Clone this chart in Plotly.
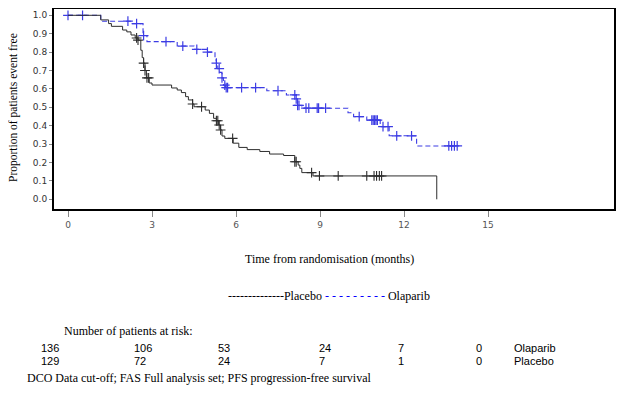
import plotly.graph_objects as go
import bisect

# ---------------- data ----------------
olap_times = [0, 1.17, 2.3, 2.68, 2.82, 3.9, 4.5, 4.96, 5.25, 5.3, 5.35, 5.42, 5.5, 5.55, 5.62,
              7.1, 7.8, 8.15, 8.2, 8.35, 10.0, 10.2, 10.67, 11.15, 11.47, 12.45]
olap_surv = [1.0, 0.968, 0.955, 0.89, 0.857, 0.833, 0.815, 0.80, 0.757, 0.74, 0.71, 0.69, 0.66, 0.62, 0.607,
             0.59, 0.567, 0.546, 0.51, 0.495, 0.47, 0.449, 0.43, 0.395, 0.345, 0.29]
olap_last = 13.9
olap_censor = [0.0, 0.52, 2.14, 2.45, 2.7, 3.5, 4.1, 4.6, 4.98, 5.3, 5.4, 5.5, 5.6, 5.65, 5.7, 6.2, 6.7,
               7.5, 8.1, 8.15, 8.2, 8.25, 8.5, 8.6, 8.9, 8.95, 9.2, 10.4, 10.85, 10.9, 10.95, 11.0,
               11.05, 11.25, 11.43, 11.74, 12.27, 13.6, 13.7, 13.8, 13.9]

plac_times = [0, 1.17, 1.45, 1.55, 1.95, 2.1, 2.25, 2.4, 2.5, 2.6, 2.65, 2.7, 2.75, 2.8, 2.9, 3.0,
              3.7, 3.9, 4.05, 4.2, 4.3, 4.45, 4.5, 4.9, 5.05, 5.2, 5.3, 5.38, 5.45, 5.5, 5.6, 5.9,
              6.1, 6.4, 6.85, 7.2, 7.7, 8.1, 8.22, 8.28, 8.35, 8.75, 13.17]
plac_surv = [1.0, 0.975, 0.955, 0.94, 0.92, 0.91, 0.893, 0.877, 0.865, 0.81, 0.77, 0.74, 0.70, 0.66, 0.632, 0.621,
             0.605, 0.594, 0.58, 0.558, 0.54, 0.518, 0.503, 0.485, 0.467, 0.44, 0.427, 0.404, 0.377, 0.344, 0.331, 0.305,
             0.282, 0.27, 0.26, 0.246, 0.238, 0.204, 0.186, 0.168, 0.145, 0.127, 0.0]
plac_last = 13.17
plac_censor = [2.45, 2.5, 2.7, 2.75, 2.82, 2.88, 4.45, 4.77, 5.3, 5.35, 5.4, 5.45, 5.88, 8.1, 8.15,
               8.7, 8.98, 9.65, 10.67, 10.93, 11.02, 11.12, 11.2]

risk_times = [0, 3, 6, 9, 12, 15]
risk_olap = [136, 106, 53, 24, 7, 0]
risk_plac = [129, 72, 24, 7, 1, 0]
x_ticks = [0, 3, 6, 9, 12, 15]
y_ticks = [0.0, 0.1, 0.2, 0.3, 0.4, 0.5, 0.6, 0.7, 0.8, 0.9, 1.0]

# ---------------- helpers ----------------
def step_value(times, surv, t):
    i = bisect.bisect_right(times, t) - 1
    return surv[max(i, 0)]

def curve(times, surv, last):
    xs = list(times)
    ys = list(surv)
    if xs[-1] < last:
        xs.append(last)
        ys.append(ys[-1])
    return xs, ys

# page has an 8px body margin; the figure is sized to fill the rest of the window
OFF = 8
W, H = 625 - OFF, 395 - OFF
PL, PT, PR, PB = 54, 9, 614, 209          # plot box in page pixels
L, T = PL - OFF, PT - OFF
R, B = W - (PR - OFF), H - (PB - OFF)
PW, PH = PR - PL, PB - PT

def px(xpage):
    return (xpage - PL) / PW

def py(ypage):
    return (PB - ypage) / PH

# y data mapping: 1.0 at page y 15.3, 0.0 at page y 199.3
Y1, Y0 = 15.3, 199.3
per = (Y0 - Y1)
y_top = 1.0 + (Y1 - PT) / per
y_bot = -(PB - Y0) / per

BLUE = "rgb(60,60,228)"
DARK = "rgb(45,45,45)"

fig = go.Figure()

ox, oy = curve(olap_times, olap_surv, olap_last)
fig.add_trace(go.Scatter(x=ox, y=oy, mode="lines", line=dict(shape="hv", color=BLUE, width=1.1, dash="5px,3px"),
                         hoverinfo="skip", showlegend=False))
fig.add_trace(go.Scatter(x=olap_censor, y=[step_value(olap_times, olap_surv, c) for c in olap_censor],
                         mode="markers", marker=dict(symbol="cross-thin-open", size=7, color=BLUE,
                                                     line=dict(color=BLUE, width=1.2)),
                         hoverinfo="skip", showlegend=False))

qx, qy = curve(plac_times, plac_surv, plac_last)
fig.add_trace(go.Scatter(x=qx, y=qy, mode="lines", line=dict(shape="hv", color=DARK, width=1.0),
                         hoverinfo="skip", showlegend=False))
fig.add_trace(go.Scatter(x=plac_censor, y=[step_value(plac_times, plac_surv, c) for c in plac_censor],
                         mode="markers", marker=dict(symbol="cross-thin-open", size=7, color=DARK,
                                                     line=dict(color=DARK, width=1.1)),
                         hoverinfo="skip", showlegend=False))

SERIF = "Liberation Serif, Times New Roman, serif"
SANS = "Liberation Sans, Arial, sans-serif"

fig.update_layout(
    width=W, height=H, margin=dict(l=L, r=R, t=T, b=B, autoexpand=False),
    paper_bgcolor="white", plot_bgcolor="white",
    xaxis=dict(range=[-0.5, 19.5], tickvals=x_ticks, ticktext=[str(v) for v in x_ticks],
               showgrid=False, zeroline=False, showline=True, linecolor="black", linewidth=2, mirror=True,
               ticks="outside", ticklen=6, tickcolor="#888", tickwidth=1,
               tickfont=dict(family="DejaVu Sans", size=9, color="#555")),
    yaxis=dict(range=[y_bot, y_top], tickvals=y_ticks, ticktext=["%.1f" % v for v in y_ticks],
               showgrid=False, zeroline=False, showline=True, linecolor="black", linewidth=2, mirror=True,
               ticks="outside", ticklen=3, tickcolor="#888", tickwidth=1,
               tickfont=dict(family="DejaVu Sans", size=9, color="#333")),
)

ann = []
ann.append(dict(text="Proportion of patients event free", textangle=-90, xref="paper", yref="paper",
                x=px(13), y=py(108), showarrow=False, font=dict(family=SERIF, size=11.5, color="black"),
                xanchor="center", yanchor="middle"))
ann.append(dict(text="Time from randomisation (months)", xref="paper", yref="paper",
                x=px(329), y=py(259), showarrow=False, font=dict(family=SERIF, size=12, color="black"),
                xanchor="center", yanchor="middle"))
ann.append(dict(text="--------------Placebo <span style='color:blue'>- - - - - - - - -</span> Olaparib",
                xref="paper", yref="paper", x=px(226), y=py(296), showarrow=False,
                font=dict(family=SERIF, size=12, color="black"), xanchor="left", yanchor="middle"))
ann.append(dict(text="Number of patients at risk:", xref="paper", yref="paper", x=px(62), y=py(331),
                showarrow=False, font=dict(family=SERIF, size=12, color="black"), xanchor="left", yanchor="middle"))

col_left = [39, 132, 216, 317, 396, 474]
for i, t in enumerate(risk_times):
    ann.append(dict(text=str(risk_olap[i]), xref="paper", yref="paper", x=px(col_left[i]), y=py(348),
                    showarrow=False, font=dict(family=SANS, size=11, color="black"), xanchor="left", yanchor="middle"))
    ann.append(dict(text=str(risk_plac[i]), xref="paper", yref="paper", x=px(col_left[i]), y=py(361),
                    showarrow=False, font=dict(family=SANS, size=11, color="black"), xanchor="left", yanchor="middle"))
ann.append(dict(text="Olaparib", xref="paper", yref="paper", x=px(512), y=py(348), showarrow=False,
                font=dict(family=SANS, size=11, color="black"), xanchor="left", yanchor="middle"))
ann.append(dict(text="Placebo", xref="paper", yref="paper", x=px(512), y=py(361), showarrow=False,
                font=dict(family=SANS, size=11, color="black"), xanchor="left", yanchor="middle"))
ann.append(dict(text="DCO Data cut-off; FAS Full analysis set; PFS progression-free survival", xref="paper", yref="paper",
                x=px(25), y=py(378), showarrow=False, font=dict(family=SERIF, size=12, color="black"),
                xanchor="left", yanchor="middle"))
fig.update_layout(annotations=ann)

fig.write_html("out.html")
